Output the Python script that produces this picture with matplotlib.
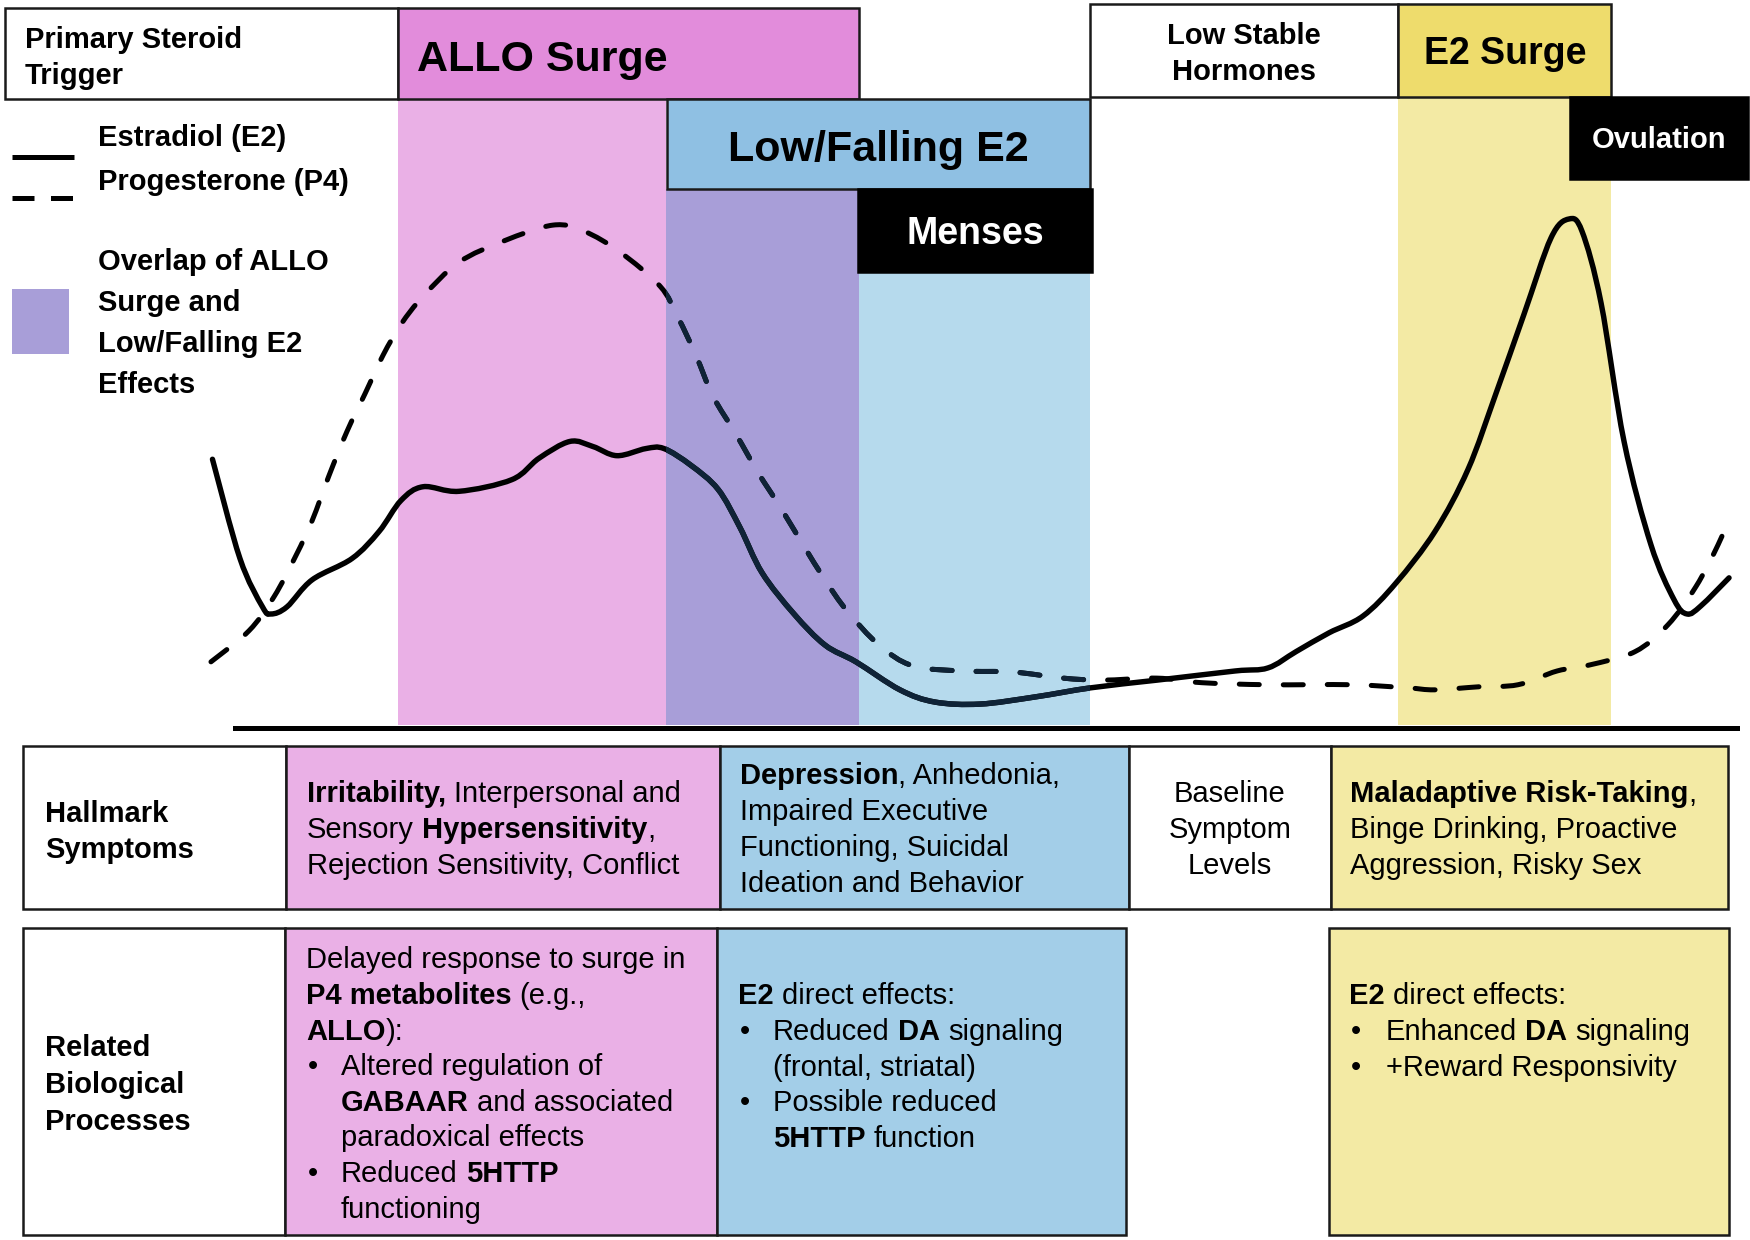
import re
import numpy as np
import matplotlib
matplotlib.use("Agg")
import matplotlib.pyplot as plt
from matplotlib.patches import Rectangle, PathPatch
from matplotlib.path import Path

plt.rcParams['font.family'] = ['Liberation Sans', 'DejaVu Sans']

# hormone curves, x = position in cycle (0-100), y = relative level (0-100)
e2_phase = [-1.5, 0.33, 1.83, 2.4, 3.46, 5.13, 7.79, 9.59, 11.05, 12.52, 14.91,
            18.44, 20.24, 22.3, 23.83, 25.43, 27.36, 28.56, 30.36, 32.16, 33.62,
            35.09, 37.22, 39.28, 41.34, 44.27, 46.6, 49.6, 53.26, 56.99, 61.38,
            66.58, 68.77, 70.64, 72.84, 75.1, 77.3, 79.89, 82.09, 83.95, 85.82,
            87.62, 88.81, 89.68, 90.95, 92.48, 94.27, 95.81, 96.67, 97.6, 99.47]
e2_level = [52.8, 33.3, 23.8, 22.4, 23.8, 29.1, 33.3, 38.6, 44.7, 47.4, 46.5,
            48.8, 53.0, 56.3, 55.3, 53.5, 54.9, 54.9, 51.6, 46.9, 39.4,
            30.5, 22.4, 16.3, 13.0, 7.5, 5.1, 4.7, 6.1, 7.9, 9.4,
            11.2, 11.8, 15.0, 18.7, 22.0, 28.5, 38.6, 50.8, 65.7, 81.3,
            96.3, 100.0, 97.6, 83.5, 56.3, 36.0, 25.2, 22.4, 24.0, 29.5]
p4_phase = [-1.6, 0.93, 2.6, 4.06, 5.13, 6.26, 7.46, 8.66, 9.85, 11.05, 12.52,
            14.91, 17.91, 21.17, 23.24, 25.63, 28.3, 29.49, 30.69, 31.82, 33.36,
            34.82, 36.28, 37.82, 39.28, 40.75, 42.88, 45.14, 48.47, 51.8, 55.13,
            57.72, 61.38, 64.38, 68.77, 74.37, 78.03, 79.89, 82.82, 85.42, 88.02,
            90.21, 93.21, 95.41, 97.27, 98.74, 99.47]
p4_level = [13.0, 19.1, 25.8, 33.9, 40.7, 49.6, 58.3, 65.7, 73.2, 79.3, 84.8,
            91.5, 95.7, 98.8, 97.6, 93.5, 86.8, 80.7, 73.2, 65.2, 57.7,
            50.2, 43.5, 36.0, 29.1, 23.0, 16.3, 12.2, 11.2, 11.0, 9.8,
            9.4, 9.8, 8.9, 8.5, 8.5, 7.9, 7.5, 8.1, 8.5, 11.2,
            12.4, 15.0, 20.3, 27.8, 36.0, 41.3]

legend_lines = ["Estradiol (E2)", "Progesterone (P4)"]
overlap_label = ["Overlap of ALLO", "Surge and", "Low/Falling E2", "Effects"]

trigger_label = ["Primary Steroid", "Trigger"]
stable_label = ["Low Stable", "Hormones"]

symptoms_label = ["Hallmark", "Symptoms"]
symptoms_allo = ["**Irritability,** Interpersonal and",
                 "Sensory **Hypersensitivity**,",
                 "Rejection Sensitivity, Conflict"]
symptoms_lowe2 = ["**Depression**, Anhedonia,",
                  "Impaired Executive",
                  "Functioning, Suicidal",
                  "Ideation and Behavior"]
symptoms_base = ["Baseline", "Symptom", "Levels"]
symptoms_e2 = ["**Maladaptive Risk-Taking**,",
               "Binge Drinking, Proactive",
               "Aggression, Risky Sex"]

bio_label = ["Related", "Biological", "Processes"]
# 0 = plain line, 1 = bullet line, 2 = continuation of a bullet
bio_allo = [(0, "Delayed response to surge in"),
            (0, "**P4 metabolites** (e.g.,"),
            (0, "**ALLO**):"),
            (1, "Altered regulation of"),
            (2, "**GABAAR** and associated"),
            (2, "paradoxical effects"),
            (1, "Reduced **5HTTP**"),
            (2, "functioning")]
bio_lowe2 = [(0, "**E2** direct effects:"),
             (1, "Reduced **DA** signaling"),
             (2, "(frontal, striatal)"),
             (1, "Possible reduced"),
             (2, "**5HTTP** function")]
bio_e2 = [(0, "**E2** direct effects:"),
          (1, "Enhanced **DA** signaling"),
          (1, "+Reward Responsivity")]

c_allo_hdr = '#e28cdb'
c_pink = '#eab0e6'
c_lowe2_hdr = '#8fc0e3'
c_purple = '#a89ed8'
c_lblue = '#b6daed'
c_blue = '#a3cee8'
c_e2_hdr = '#eedc6c'
c_yellow = '#f3eaa4'
c_navy = '#0f2337'

fig = plt.figure(figsize=(17.5, 12.4), dpi=100)
lay = fig.add_axes([0, 0, 1, 1])
lay.set_xlim(0, 1750)
lay.set_ylim(1240, 0)
lay.axis('off')
renderer = fig.canvas.get_renderer()


def box(x0, y0, x1, y1, fc, ec='#1a1a1a', lw=1.8, z=1):
    lay.add_patch(Rectangle((x0, y0), x1 - x0, y1 - y0, facecolor=fc,
                            edgecolor=ec, linewidth=lw, zorder=z))


def rich(x, yc, line, size=21, ha='left', color='k', bold_all=False):
    # draw text with **bold** segments, yc = visual middle of the line
    px = size * 100 / 72.0
    base = yc + 0.36 * px
    sp = 0.278 * px
    parts = [p for p in re.split(r'(\*\*.*?\*\*)', line) if p]
    cur = 0.0
    objs = []
    for p in parts:
        bold = bold_all or p.startswith('**')
        s = p.strip('*') if p.startswith('**') else p
        if s.startswith(' '):
            cur += sp
        core = s.strip(' ')
        if core:
            t = lay.text(x + cur, base, core, fontsize=size, va='baseline',
                         ha='left', color=color, zorder=10,
                         fontweight='bold' if bold else 'normal')
            cur += t.get_window_extent(renderer).width
            objs.append(t)
        if s.endswith(' ') and s.strip(' '):
            cur += sp
    if ha == 'center':
        for t in objs:
            tx, ty = t.get_position()
            t.set_position((tx - cur / 2, ty))


def smooth_path(xs, ys):
    # bezier through the read points so the hand drawn curve looks smooth
    pts = np.column_stack([xs, ys])
    p = np.vstack([pts[0], pts, pts[-1]])
    verts = [pts[0]]
    codes = [Path.MOVETO]
    for i in range(1, len(p) - 2):
        c1 = p[i] + (p[i + 1] - p[i - 1]) / 6.0
        c2 = p[i + 1] - (p[i + 2] - p[i]) / 6.0
        verts += [c1, c2, p[i + 1]]
        codes += [Path.CURVE4] * 3
    return Path(verts, codes)


# shaded phases behind the curves
box(398, 99, 666, 725, c_pink, ec='none', lw=0)
box(666, 189, 859, 725, c_purple, ec='none', lw=0)
box(859, 272, 1090, 725, c_lblue, ec='none', lw=0)
box(1398, 97, 1611, 725, c_yellow, ec='none', lw=0)

# header boxes
box(5, 8, 398, 99, 'white')
box(398, 8, 859, 99, c_allo_hdr)
box(1090, 4, 1398, 97, 'white')
box(1398, 4, 1611, 97, c_e2_hdr)
box(667, 99, 1090, 189, c_lowe2_hdr)
box(858, 189, 1092, 272, 'black', ec='black')
box(1570, 97, 1748, 179, 'black', ec='black')

for i, s in enumerate(trigger_label):
    rich(25, 37 + 36 * i, s, 21, bold_all=True)
rich(417, 55, "ALLO Surge", 31, bold_all=True)
rich(878, 145, "Low/Falling E2", 31, ha='center', bold_all=True)
rich(975, 231, "Menses", 27, ha='center', color='white', bold_all=True)
for i, s in enumerate(stable_label):
    rich(1244, 33 + 37 * i, s, 21, ha='center', bold_all=True)
rich(1505, 51, "E2 Surge", 27, ha='center', bold_all=True)
rich(1659, 138, "Ovulation", 21, ha='center', color='white', bold_all=True)

# legend
lay.plot([12, 74], [157, 157], color='k', lw=3.6, solid_capstyle='butt')
lay.plot([12, 74], [198, 198], color='k', lw=3.6, dashes=(4.4, 3.3),
         dash_capstyle='butt')
rich(98, 136, legend_lines[0], 21, bold_all=True)
rich(98, 179, legend_lines[1], 21, bold_all=True)
box(12, 289, 69, 354, c_purple, ec='none', lw=0)
for i, s in enumerate(overlap_label):
    rich(98, 260 + 40.7 * i, s, 21, bold_all=True)

# hormone chart
ax = fig.add_axes([235 / 1750, (1240 - 728) / 1240, 1502 / 1750, (728 - 219) / 1240])
ax.patch.set_alpha(0)
ax.set_xlim(0, 100)
ax.set_ylim(0, 100)
for sp in ['top', 'right', 'left']:
    ax.spines[sp].set_visible(False)
ax.spines['bottom'].set_linewidth(3.6)
ax.set_xticks([])
ax.set_yticks([])

e2_path = smooth_path(e2_phase, e2_level)
p4_path = smooth_path(p4_phase, p4_level)
clip = Rectangle((666, 189), 424, 536, transform=lay.transData)
for col, cl in [('k', None), (c_navy, clip)]:
    pe = PathPatch(e2_path, fill=False, edgecolor=col, lw=3.9,
                   capstyle='round', joinstyle='round', clip_on=False)
    pp = PathPatch(p4_path, fill=False, edgecolor=col, lw=3.6,
                   linestyle=(0, (4.0, 4.8)), capstyle='round', clip_on=False)
    ax.add_patch(pe)
    ax.add_patch(pp)
    if cl is not None:
        for pt in (pe, pp):
            pt.set_clip_on(True)
            pt.set_clip_path(cl)

# table rows
row1 = (746, 909)
row2 = (928, 1235)
edges1 = [23, 286, 720, 1129, 1331, 1728]
fills1 = ['white', c_pink, c_blue, 'white', c_yellow]
for i in range(5):
    box(edges1[i], row1[0], edges1[i + 1], row1[1], fills1[i])
box(23, row2[0], 285, row2[1], 'white')
box(285, row2[0], 717, row2[1], c_pink)
box(717, row2[0], 1126, row2[1], c_blue)
box(1329, row2[0], 1729, row2[1], c_yellow)

for i, s in enumerate(symptoms_label):
    rich(45, 811 + 36.5 * i, s, 21, bold_all=True)
for i, s in enumerate(symptoms_allo):
    rich(307, 792 + 36 * i, s, 21)
for i, s in enumerate(symptoms_lowe2):
    rich(740, 773 + 36.3 * i, s, 21)
for i, s in enumerate(symptoms_base):
    rich(1230, 792 + 36 * i, s, 21, ha='center')
for i, s in enumerate(symptoms_e2):
    rich(1350, 792 + 36 * i, s, 21)

for i, s in enumerate(bio_label):
    rich(45, 1046 + 36.5 * i, s, 21, bold_all=True)


def bullets(items, x0, xb, xi, y0):
    for i, (kind, s) in enumerate(items):
        y = y0 + 35.6 * i
        if kind == 0:
            rich(x0, y, s, 21)
        else:
            if kind == 1:
                rich(xb, y, "\u2022", 21)
            rich(xi, y, s, 21)


bullets(bio_allo, 306, 308, 341, 958)
bullets(bio_lowe2, 738, 740, 773, 994)
bullets(bio_e2, 1349, 1351, 1386, 994)

fig.savefig('out.png', dpi=100)
